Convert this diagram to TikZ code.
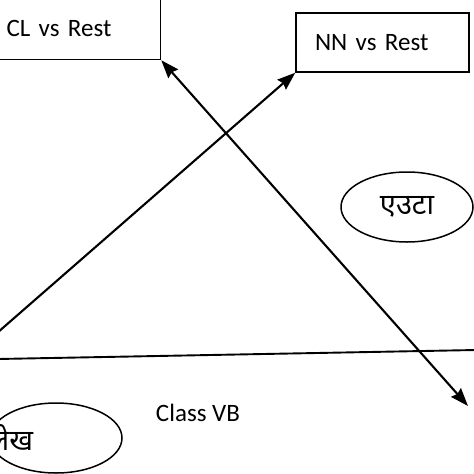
\documentclass[tikz,border=0pt]{standalone}
\usepackage{fontspec}
\setmainfont{Carlito}
\newfontfamily\devfont[Script=Devanagari]{Noto Sans}
\usepackage{tikz}
\usetikzlibrary{shapes,arrows.meta,positioning}

\begin{document}
\begin{tikzpicture}[
    x=1pt, y=-1pt,
    classbox/.style={rectangle, draw, line width=1.5pt, minimum width=173pt, minimum height=59pt, text width=135pt, inner xsep=19pt, align=left, font=\fontsize{25}{28}\selectfont},
    bubble/.style={ellipse, draw, line width=1.5pt, minimum width=132pt, minimum height=70pt, inner sep=0pt, font=\fontsize{29}{32}\selectfont\devfont},
    arrow/.style={-{Stealth[length=18pt, width=13pt, inset=2pt]}, line width=2.1pt}
]
\useasboundingbox (0,0) rectangle (474,474);
\clip (0,0) rectangle (474,474);

% Classifier boxes
\node[classbox, minimum height=62pt] (cl) at (74,28.5) {CL vs Rest};
\node[classbox] (nn) at (382.5,42.5) {NN vs Rest};

% Word ellipses
\node[bubble] (eutaa) at (407,207) {एउटा};
\node[bubble] (lekh) at (56,438) {\makebox[0pt][r]{लेख\hspace{23pt}}};

% Class label
\node[font=\fontsize{25}{28}\selectfont] (classvb) at (198,413) {Class VB};

% Free ends
\coordinate (start) at (-3,333);
\coordinate (end) at (468,406);
\coordinate (lineL) at (-2,359);
\coordinate (lineR) at (476,350);

% Arrows
\draw[arrow] (start) -- (nn.south west);
\draw[arrow, {Stealth[length=18pt, width=13pt, inset=2pt]}-{Stealth[length=18pt, width=13pt, inset=2pt]}] (cl.south east) -- (end);
\draw[line width=1.9pt] (lineL) -- (lineR);

\end{tikzpicture}
\end{document}
